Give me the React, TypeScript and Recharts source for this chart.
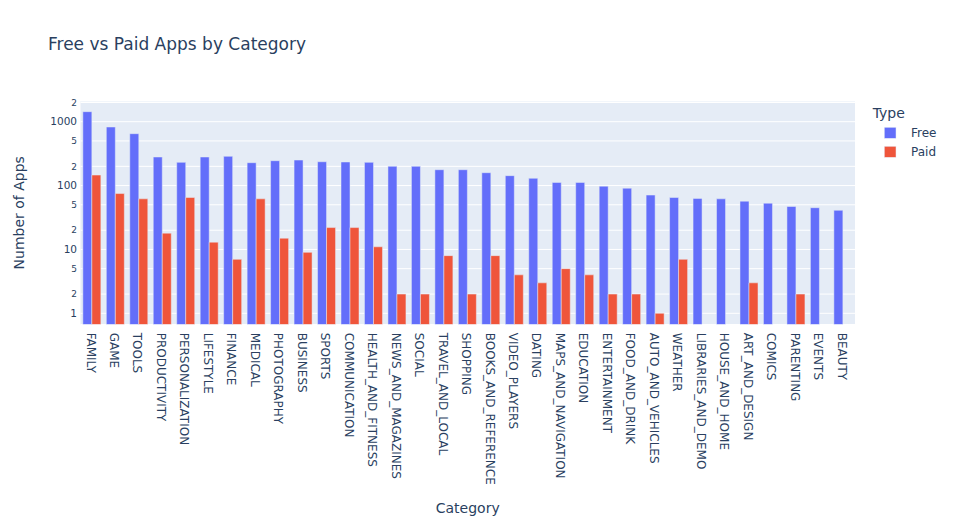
import React from 'react';
import { BarChart, Bar, XAxis, YAxis, CartesianGrid, Legend } from 'recharts';

// App counts per Play Store category, split by pricing type
const categories = [
  'FAMILY', 'GAME', 'TOOLS', 'PRODUCTIVITY', 'PERSONALIZATION', 'LIFESTYLE', 'FINANCE',
  'MEDICAL', 'PHOTOGRAPHY', 'BUSINESS', 'SPORTS', 'COMMUNICATION', 'HEALTH_AND_FITNESS',
  'NEWS_AND_MAGAZINES', 'SOCIAL', 'TRAVEL_AND_LOCAL', 'SHOPPING', 'BOOKS_AND_REFERENCE',
  'VIDEO_PLAYERS', 'DATING', 'MAPS_AND_NAVIGATION', 'EDUCATION', 'ENTERTAINMENT',
  'FOOD_AND_DRINK', 'AUTO_AND_VEHICLES', 'WEATHER', 'LIBRARIES_AND_DEMO', 'HOUSE_AND_HOME',
  'ART_AND_DESIGN', 'COMICS', 'PARENTING', 'EVENTS', 'BEAUTY',
];

const freeCounts = [
  1435, 826, 649, 280, 231, 280, 287, 228, 245, 251, 236, 234, 231,
  200, 200, 177, 177, 159, 143, 130, 112, 112, 98, 91, 71, 65, 63, 62,
  57, 53, 47, 45, 41,
];

const paidCounts: (number | null)[] = [
  146, 75, 62, 18, 65, 13, 7, 62, 15, 9, 22, 22, 11,
  2, 2, 8, 2, 8, 4, 3, 5, 4, 2, 2, 1, 7, null, null,
  3, null, 2, null, null,
];

const yTicks = [1, 2, 5, 10, 20, 50, 100, 200, 500, 1000, 2000];
const seriesNames = ['Free', 'Paid'];

const data = categories.map((category, i) => ({
  category,
  Free: freeCounts[i],
  Paid: paidCounts[i],
}));

const TEXT = '#2a3f5f';
const FONT = 'Verdana, "DejaVu Sans", sans-serif';
const COLORS: Record<string, string> = { Free: '#636efa', Paid: '#EF553B' };
const PLOT_BG = '#E5ECF6';

const isDecade = (v: number) => Math.abs(Math.log10(v) - Math.round(Math.log10(v))) < 1e-9;

const YTick = (props: any) => {
  const { x, y, payload } = props;
  const v = payload.value as number;
  const major = isDecade(v);
  return (
    <text
      x={x - 3.5}
      y={y}
      dy="0.36em"
      textAnchor="end"
      fontSize={major ? 10.5 : 9}
      fill={TEXT}
      fontFamily={FONT}
    >
      {major ? String(v) : String(v).charAt(0)}
    </text>
  );
};

const XTick = (props: any) => {
  const { x, y, payload } = props;
  return (
    <g transform={`translate(${x},${y + 8.2}) rotate(90)`}>
      <text x={0} y={0} dy={5.7} textAnchor="start" fontSize={12} fill={TEXT} fontFamily={FONT}>
        {payload.value}
      </text>
    </g>
  );
};

const LegendBox = () => (
  <svg width={78} height={62} style={{ display: 'block' }}>
    <text x={2.7} y={15.3} fontSize={14} fill={TEXT} fontFamily={FONT}>
      Type
    </text>
    {seriesNames.map((name, i) => (
      <g key={name} transform={`translate(0, ${i * 19})`}>
        <rect
          x={14.3}
          y={24.3}
          width={11.7}
          height={11}
          fill={COLORS[name]}
          stroke={PLOT_BG}
          strokeWidth={0.5}
        />
        <text x={41} y={33.7} fontSize={12} fill={TEXT} fontFamily={FONT}>
          {name}
        </text>
      </g>
    ))}
  </svg>
);

export default function App() {
  return (
    <div style={{ position: 'relative', width: 938, height: 510, fontFamily: FONT }}>
      <div
        style={{
          position: 'absolute',
          left: 40,
          top: 26,
          fontSize: 17,
          color: TEXT,
          whiteSpace: 'nowrap',
          fontFamily: FONT,
        }}
      >
        Free vs Paid Apps by Category
      </div>
      <BarChart
        width={938}
        height={510}
        data={data}
        margin={{ top: 93, right: 13, left: 0, bottom: 0 }}
        barCategoryGap="10%"
        barGap={0}
      >
        <CartesianGrid fill={PLOT_BG} stroke="#ffffff" strokeWidth={1} vertical={false} />
        <XAxis
          dataKey="category"
          interval={0}
          height={193.5}
          tickSize={0}
          tickMargin={0}
          axisLine={false}
          tickLine={false}
          tick={<XTick />}
          label={{
            content: (p: any) => {
              const vb = p.viewBox;
              return (
                <text
                  x={vb.x + vb.width / 2}
                  y={vb.y + 188.5}
                  textAnchor="middle"
                  fontSize={14}
                  fill={TEXT}
                  fontFamily={FONT}
                >
                  Category
                </text>
              );
            },
          }}
        />
        <YAxis
          type="number"
          scale="log"
          domain={[0.668, 2109]}
          allowDataOverflow
          ticks={yTicks}
          interval={0}
          width={72.5}
          tickSize={0}
          tickMargin={0}
          axisLine={false}
          tickLine={false}
          tick={<YTick />}
          label={{
            content: (p: any) => {
              const vb = p.viewBox;
              return (
                <text
                  transform={`translate(15.5, ${vb.y + vb.height / 2}) rotate(-90)`}
                  textAnchor="middle"
                  fontSize={14}
                  fill={TEXT}
                  fontFamily={FONT}
                >
                  Number of Apps
                </text>
              );
            },
          }}
        />
        <Legend
          layout="vertical"
          align="right"
          verticalAlign="top"
          width={78}
          height={62}
          wrapperStyle={{ left: 862, top: 95, width: 78, height: 62 }}
          content={<LegendBox />}
        />
        {seriesNames.map((name) => (
          <Bar
            key={name}
            dataKey={name}
            fill={COLORS[name]}
            stroke={PLOT_BG}
            strokeWidth={0.5}
            isAnimationActive={false}
          />
        ))}
      </BarChart>
    </div>
  );
}
